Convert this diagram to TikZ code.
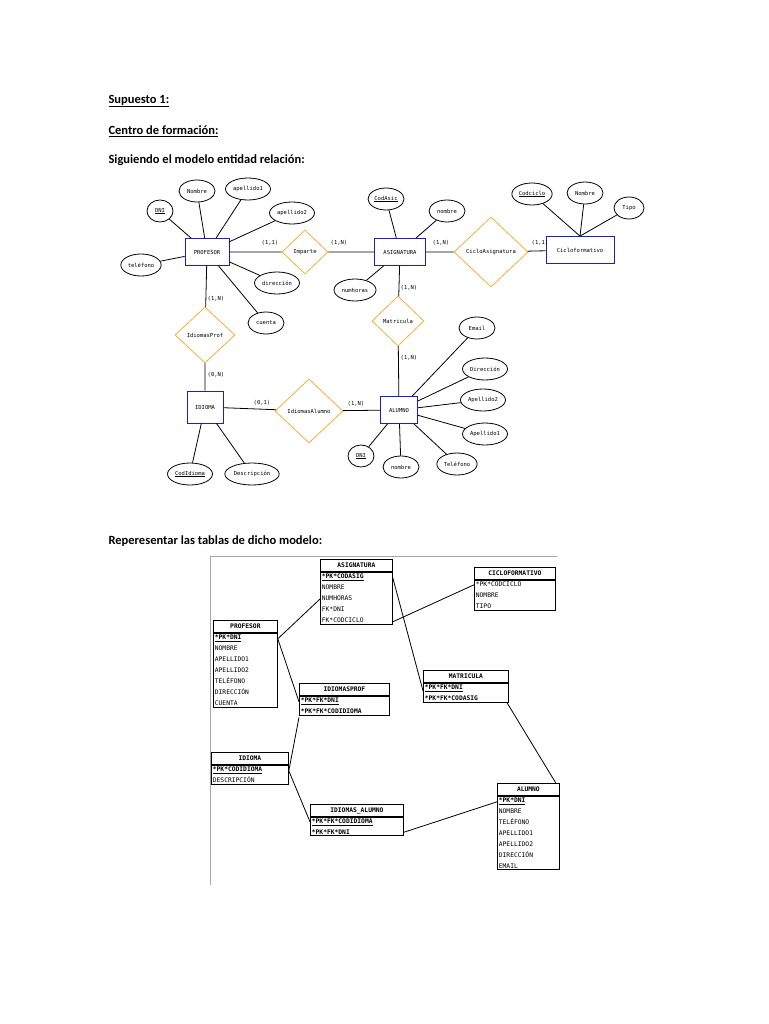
\documentclass[tikz,border=0pt]{standalone}
\usepackage{fontspec}
\setmainfont{Carlito}
\newfontfamily\ermono{DejaVu Sans Mono}
\usetikzlibrary{shapes.geometric}
\definecolor{ent}{RGB}{30,30,200}
\definecolor{rel}{RGB}{245,176,50}
\newcommand{\mytbl}[6]{%
 \node[th,minimum width=#4pt,anchor=north west] (#1-h) at (#2,#3) {#5};
 \node[tb,text width=#4pt-3pt,anchor=north west] (#1-b) at (#1-h.south west) {#6};}
\begin{document}
\begin{tikzpicture}[x=1pt,y=-1pt,
 ent/.style={draw=ent,thick,minimum height=27pt,font=\ermono\fontsize{5.5}{6}\selectfont,inner sep=2pt},
 rel/.style={draw=rel,thick,diamond,aspect=1.1,inner sep=1pt,font=\ermono\fontsize{5.5}{6}\selectfont},
 att/.style={draw,thick,ellipse,minimum width=36pt,minimum height=22pt,inner sep=1pt,font=\ermono\fontsize{5.5}{6}\selectfont},
 card/.style={font=\ermono\fontsize{5.5}{6}\selectfont},
 ln/.style={thick},
 head/.style={font=\bfseries\fontsize{12.5}{14}\selectfont,anchor=west},
 th/.style={draw,thick,minimum height=12pt,inner sep=1pt,font=\ermono\bfseries\fontsize{6.3}{7}\selectfont},
 tb/.style={draw,thick,align=left,inner sep=1.5pt,font=\ermono\fontsize{6.3}{11}\selectfont},
 tl/.style={thick}]
\useasboundingbox (0,0) rectangle (768,1024);
\fill[white] (0,0) rectangle (768,1024);
\node[head] (t1) at (105,101) {\underline{Supuesto 1:}};
\node[head] (t2) at (105,131) {\underline{Centro de formación:}};
\node[head] (t3) at (105,160) {Siguiendo el modelo entidad relación:};
\node[head] (t4) at (105,541) {Reperesentar las tablas de dicho modelo:};
% ER
\node[ent,minimum width=44pt] (prof) at (207,252) {PROFESOR};
\node[ent,minimum width=51pt] (asig) at (400,252) {ASIGNATURA};
\node[ent,minimum width=68pt] (ciclo) at (580,250) {Cicloformativo};
\node[ent,minimum width=37pt] (alum) at (399,410) {ALUMNO};
\node[ent,minimum width=36pt,minimum height=32pt] (idi) at (205,407) {IDIOMA};
\node[rel,minimum width=46pt,minimum height=44pt] (imp) at (305,252) {Imparte};
\node[rel,minimum width=74pt,minimum height=70pt] (casig) at (491,252) {CicloAsignatura};
\node[rel,minimum width=52pt,minimum height=50pt] (mat) at (398,321) {Matricula};
\node[rel,minimum width=60pt,minimum height=56pt] (iprof) at (205,335) {IdiomasProf};
\node[rel,minimum width=68pt,minimum height=64pt] (ialum) at (309,411) {IdiomasAlumno};
\node[att,minimum width=26pt] (pdni) at (160,211) {\underline{DNI}};
\node[att] (pnom) at (197,191) {Nombre};
\node[att,minimum width=42pt] (pap1) at (248,189) {apellido1};
\node[att,minimum width=42pt] (pap2) at (292,213) {apellido2};
\node[att,minimum width=40pt] (ptel) at (141,265) {teléfono};
\node[att,minimum width=42pt] (pdir) at (277,283) {dirección};
\node[att] (pcue) at (266,323) {cuenta};
\node[att] (acod) at (386,199) {\underline{CodAsic}};
\node[att] (anom) at (447,211) {nombre};
\node[att,minimum width=42pt] (anum) at (355,290) {numhoras};
\node[att,minimum width=40pt] (ccod) at (532,194) {\underline{Codciclo}};
\node[att] (cnom) at (585,193) {Nombre};
\node[att,minimum width=30pt] (ctip) at (629,208) {Tipo};
\node[att] (lema) at (477,328) {Email};
\node[att,minimum width=44pt] (ldir) at (485,369) {Dirección};
\node[att,minimum width=44pt] (lap2) at (483,400) {Apellido2};
\node[att,minimum width=44pt] (lap1) at (485,434) {Apellido1};
\node[att,minimum width=40pt] (ltel) at (457,464) {Teléfono};
\node[att] (lnom) at (401,467) {nombre};
\node[att,minimum width=26pt] (ldni) at (361,456) {\underline{DNI}};
\node[att,minimum width=44pt] (icod) at (190,474) {\underline{CodIdioma}};
\node[att,minimum width=54pt] (ides) at (252,474) {Descripción};
\foreach \a in {pdni,pnom,pap1,pap2,ptel,pdir,pcue} \draw[ln] (prof) -- (\a);
\foreach \a in {acod,anom,anum} \draw[ln] (asig) -- (\a);
\foreach \a in {ccod,cnom,ctip} \draw[ln] (ciclo.north) -- (\a);
\foreach \a in {lema,ldir,lap2,lap1,ltel,lnom,ldni} \draw[ln] (alum) -- (\a);
\foreach \a in {icod,ides} \draw[ln] (idi) -- (\a);
\draw[ln] (prof) -- (imp) -- (asig) -- (casig) -- (ciclo);
\draw[ln] (asig) -- (mat) -- (alum);
\draw[ln] (prof) -- (iprof) -- (idi);
\draw[ln] (idi) -- (ialum) -- (alum);
\node[card] (c1) at (270,243) {(1,1)};
\node[card] (c2) at (339,243) {(1,N)};
\node[card] (c3) at (441,243) {(1,N)};
\node[card] (c4) at (540,243) {(1,1)};
\node[card] (c5) at (409,288) {(1,N)};
\node[card] (c6) at (409,358) {(1,N)};
\node[card] (c7) at (216,299) {(1,N)};
\node[card] (c8) at (216,375) {(0,N)};
\node[card] (c9) at (262,403) {(0,1)};
\node[card] (c10) at (356,404) {(1,N)};
% tables frame
\draw[gray!70,thick] (210,885) -- (210,556) -- (557,556);
\mytbl{tasig}{320}{559}{72}{ASIGNATURA}{\textbf{\underline{*PK*CODASIG}}\\*NOMBRE\\*NUMHORAS\\*FK*DNI\\*FK*CODCICLO}
\mytbl{tcic}{474}{567}{81}{CICLOFORMATIVO}{*PK*CODCICLO\\*NOMBRE\\*TIPO}
\mytbl{tprof}{213}{620}{64}{PROFESOR}{\textbf{\underline{*PK*DNI}}\\*NOMBRE\\*APELLIDO1\\*APELLIDO2\\*TELÉFONO\\*DIRECCIÓN\\*CUENTA}
\mytbl{tiprof}{299}{683}{90}{IDIOMASPROF}{\textbf{\underline{*PK*FK*DNI}}\\\textbf{*PK*FK*CODIDIOMA}}
\mytbl{tmat}{423}{670}{85}{MATRICULA}{\textbf{\underline{*PK*FK*DNI}}\\\textbf{*PK*FK*CODASIG}}
\mytbl{tidi}{211}{752}{77}{IDIOMA}{\textbf{\underline{*PK*CODIDIOMA}}\\*DESCRIPCIÓN}
\mytbl{tial}{310}{804}{93}{IDIOMAS\_ALUMNO}{\textbf{\underline{*PK*FK*CODIDIOMA}}\\\textbf{*PK*FK*DNI}}
\mytbl{talu}{497}{783}{62}{ALUMNO}{\textbf{\underline{*PK*DNI}}\\*NOMBRE\\*TELÉFONO\\*APELLIDO1\\*APELLIDO2\\*DIRECCIÓN\\*EMAIL\\*}
\draw[tl] ([yshift=-6pt]tprof-b.north east) -- ([yshift=-40pt]tasig-h.north west);
\draw[tl] ([yshift=-50pt]tasig-b.north east) -- ([yshift=-5pt]tcic-b.north west);
\draw[tl] ([yshift=-6pt]tasig-b.north east) -- ([yshift=-8pt]tmat-b.north west);
\draw[tl] ([yshift=-6pt]tprof-b.north east) -- ([yshift=-6pt]tiprof-b.north west);
\draw[tl] ([yshift=-2pt]tiprof-b.south west) -- ([yshift=-6pt]tidi-b.north east);
\draw[tl] ([yshift=-6pt]tidi-b.north east) -- ([yshift=-5pt]tial-b.north west);
\draw[tl] ([yshift=4pt]tial-b.south east) -- ([yshift=-6pt]talu-b.north west);
\draw[tl] ([xshift=-2pt]tmat-b.south east) -- ([xshift=-4pt]talu-h.north east);
\end{tikzpicture}
\end{document}
